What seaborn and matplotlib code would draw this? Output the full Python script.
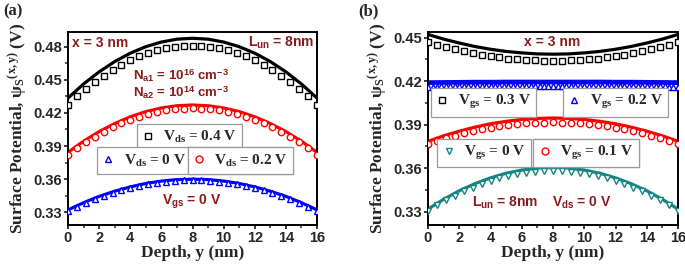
"""Surface potential vs depth, two panels."""

import matplotlib
matplotlib.use("Agg")
import matplotlib.pyplot as plt
from matplotlib.lines import Line2D
from matplotlib.ticker import MultipleLocator
import seaborn as sns

# ---- data ---------------------------------------------------------------
line_depth = [0, 1, 2, 3, 4, 5, 6, 7, 8, 9, 10, 11, 12, 13, 14, 15, 16]
pt_depth = [0, 0.57, 1.14, 1.71, 2.29, 2.86, 3.43, 4.0, 4.57, 5.14, 5.71, 6.29, 6.86, 7.43, 8.0,
            8.57, 9.14, 9.71, 10.29, 10.86, 11.43, 12.0, 12.57, 13.14, 13.71, 14.29, 14.86, 15.43, 16.0]
dense_depth = [0, 0.29, 0.57, 0.86, 1.14, 1.43, 1.71, 2.0, 2.29, 2.57, 2.86, 3.14, 3.43, 3.71,
               4.0, 4.29, 4.57, 4.86, 5.14, 5.43, 5.71, 6.0, 6.29, 6.57, 6.86, 7.14, 7.43, 7.71,
               8.0, 8.29, 8.57, 8.86, 9.14, 9.43, 9.71, 10.0, 10.29, 10.57, 10.86, 11.14, 11.43,
               11.71, 12.0, 12.29, 12.57, 12.86, 13.14, 13.43, 13.71, 14.0, 14.29, 14.57, 14.86,
               15.14, 15.43, 15.71, 16.0]

# panel (a): Vgs = 0 V, varying Vds
a_vds04_line = [0.4335, 0.4462, 0.4572, 0.4665, 0.4741, 0.4800, 0.4842, 0.4868, 0.4876,
                0.4868, 0.4842, 0.4800, 0.4741, 0.4665, 0.4572, 0.4462, 0.4335]
a_vds04_pts = [0.4275, 0.4349, 0.4417, 0.4480, 0.4537, 0.4589, 0.4635, 0.4676, 0.4712, 0.4742,
               0.4766, 0.4785, 0.4799, 0.4807, 0.4810, 0.4807, 0.4799, 0.4785, 0.4766, 0.4742,
               0.4712, 0.4676, 0.4635, 0.4589, 0.4537, 0.4480, 0.4417, 0.4349, 0.4275]
a_vds02_line = [0.3843, 0.3944, 0.4031, 0.4104, 0.4165, 0.4212, 0.4245, 0.4265, 0.4272,
                0.4265, 0.4245, 0.4212, 0.4165, 0.4104, 0.4031, 0.3944, 0.3843]
a_vds02_pts = [0.3822, 0.3880, 0.3933, 0.3983, 0.4028, 0.4069, 0.4105, 0.4137, 0.4165, 0.4188,
               0.4208, 0.4223, 0.4233, 0.4240, 0.4242, 0.4240, 0.4233, 0.4223, 0.4208, 0.4188,
               0.4165, 0.4137, 0.4105, 0.4069, 0.4028, 0.3983, 0.3933, 0.3880, 0.3822]
a_vds0_line = [0.3322, 0.3387, 0.3444, 0.3491, 0.3530, 0.3561, 0.3583, 0.3596, 0.3600,
               0.3596, 0.3583, 0.3561, 0.3530, 0.3491, 0.3444, 0.3387, 0.3322]
a_vds0_pts = [0.3310, 0.3349, 0.3384, 0.3417, 0.3447, 0.3474, 0.3498, 0.3520, 0.3538, 0.3554,
              0.3567, 0.3577, 0.3584, 0.3589, 0.3590, 0.3589, 0.3584, 0.3577, 0.3567, 0.3554,
              0.3538, 0.3520, 0.3498, 0.3474, 0.3447, 0.3417, 0.3384, 0.3349, 0.3310]

# panel (b): Vds = 0 V, varying Vgs
b_vgs03_line = [0.4522, 0.4490, 0.4463, 0.4439, 0.4420, 0.4405, 0.4395, 0.4388, 0.4386,
                0.4388, 0.4395, 0.4405, 0.4420, 0.4439, 0.4463, 0.4490, 0.4522]
b_vgs03_pts = [0.4468, 0.4450, 0.4434, 0.4419, 0.4405, 0.4393, 0.4382, 0.4372, 0.4364, 0.4356,
               0.4350, 0.4346, 0.4343, 0.4341, 0.4340, 0.4341, 0.4343, 0.4346, 0.4350, 0.4356,
               0.4364, 0.4372, 0.4382, 0.4393, 0.4405, 0.4419, 0.4434, 0.4450, 0.4468]
b_vgs02_line = [0.4190, 0.4191, 0.4192, 0.4193, 0.4193, 0.4194, 0.4194, 0.4194, 0.4194,
                0.4194, 0.4194, 0.4194, 0.4193, 0.4193, 0.4192, 0.4191, 0.4190]
b_vgs02_pts = [0.4162, 0.4163, 0.4163, 0.4164, 0.4164, 0.4164, 0.4165, 0.4165, 0.4165, 0.4166,
               0.4166, 0.4166, 0.4166, 0.4167, 0.4167, 0.4167, 0.4167, 0.4167, 0.4167, 0.4168,
               0.4168, 0.4168, 0.4168, 0.4168, 0.4168, 0.4168, 0.4168, 0.4168, 0.4168, 0.4168,
               0.4168, 0.4168, 0.4168, 0.4168, 0.4168, 0.4168, 0.4168, 0.4168, 0.4167, 0.4167,
               0.4167, 0.4167, 0.4167, 0.4167, 0.4166, 0.4166, 0.4166, 0.4166, 0.4165, 0.4165,
               0.4165, 0.4164, 0.4164, 0.4164, 0.4163, 0.4163, 0.4162]
b_vgs01_line = [0.3785, 0.3823, 0.3855, 0.3883, 0.3906, 0.3923, 0.3936, 0.3943, 0.3946,
                0.3943, 0.3936, 0.3923, 0.3906, 0.3883, 0.3855, 0.3823, 0.3785]
b_vgs01_pts = [0.3768, 0.3788, 0.3807, 0.3824, 0.3840, 0.3854, 0.3867, 0.3878, 0.3888, 0.3896,
               0.3903, 0.3908, 0.3912, 0.3914, 0.3915, 0.3914, 0.3912, 0.3908, 0.3903, 0.3896,
               0.3888, 0.3878, 0.3867, 0.3854, 0.3840, 0.3824, 0.3807, 0.3788, 0.3768]
b_vgs0_line = [0.3318, 0.3385, 0.3444, 0.3493, 0.3533, 0.3565, 0.3587, 0.3601, 0.3605,
               0.3601, 0.3587, 0.3565, 0.3533, 0.3493, 0.3444, 0.3385, 0.3318]
b_vgs0_pts = [0.3305, 0.3343, 0.3378, 0.3410, 0.3440, 0.3466, 0.3490, 0.3511, 0.3529, 0.3545,
              0.3558, 0.3567, 0.3574, 0.3579, 0.3580, 0.3579, 0.3574, 0.3567, 0.3558, 0.3545,
              0.3529, 0.3511, 0.3490, 0.3466, 0.3440, 0.3410, 0.3378, 0.3343, 0.3305]

a_ticks = [0.33, 0.36, 0.39, 0.42, 0.45, 0.48]
b_ticks = [0.33, 0.36, 0.39, 0.42, 0.45]
x_ticks = [0, 2, 4, 6, 8, 10, 12, 14, 16]

# ---- style ----------------------------------------------------------------
W, H = 685, 264
TOP, BOTTOM = 32, 225
ANNOT = "#8B1A1A"
TEAL = "#138583"
SERIF = "Liberation Serif"
SANS = "Liberation Sans"

sns.set_theme(style="ticks")
plt.rcParams.update({
    "font.family": [SANS, "DejaVu Sans"],
    "font.weight": "bold",
    "mathtext.fontset": "custom",
    "mathtext.rm": "Liberation Serif:bold",
    "mathtext.it": "Liberation Serif:italic:bold",
    "mathtext.bf": "Liberation Serif:bold",
    "mathtext.sf": "Liberation Sans:bold",
    "axes.linewidth": 1.4,
    "axes.unicode_minus": False,
})


def draw_curve(ax, xs, ys, color, lw=2.3):
    sns.lineplot(x=xs, y=ys, ax=ax, color=color, linewidth=lw, zorder=2)


def draw_points(ax, xs, ys, color, marker, ms=4.2):
    sns.lineplot(x=xs, y=ys, ax=ax, color=color, linestyle="", marker=marker,
                 markersize=ms, markerfacecolor="white", markeredgecolor=color,
                 markeredgewidth=1.0, zorder=3)


def legend_box(ax, color, marker, label, cx, cy, ms=5.0):
    handle = Line2D([], [], linestyle="", marker=marker, markersize=ms,
                    markerfacecolor="white", markeredgecolor=color, markeredgewidth=1.0)
    leg = ax.legend([handle], [label], loc="center", bbox_to_anchor=(cx / W, 1 - cy / H),
                    bbox_transform=ax.figure.transFigure, frameon=True, fancybox=False,
                    framealpha=1, edgecolor="#9a9a9a", handlelength=0.8, handletextpad=0.6,
                    borderpad=0.35, borderaxespad=0,
                    prop={"family": SERIF, "weight": "bold", "size": 11})
    leg.get_frame().set_linewidth(0.9)
    leg.set_zorder(6)
    ax.add_artist(leg)


def annot(fig, text, cx, cy, size=10):
    fig.text(cx / W, 1 - cy / H, text, color=ANNOT, ha="center", va="center",
             fontsize=size, fontweight="bold", family=SANS)


def style_axes(ax, ylim, yticks):
    ax.set_xlim(0, 16)
    ax.set_ylim(*ylim)
    ax.set_xticks(x_ticks)
    ax.set_yticks(yticks)
    ax.set_yticklabels([f"{t:.2f}" for t in yticks])
    ax.yaxis.set_minor_locator(MultipleLocator(0.015))
    ax.xaxis.set_minor_locator(MultipleLocator(1))
    ax.tick_params(which="major", direction="out", length=3, width=1.3,
                   labelsize=10.5, pad=1.5)
    ax.tick_params(which="minor", direction="out", length=2, width=1.1)
    for lab in ax.get_xticklabels() + ax.get_yticklabels():
        lab.set_fontweight("bold")
        lab.set_family(SANS)
    for side in ["top", "right", "left", "bottom"]:
        ax.spines[side].set_visible(True)
        ax.spines[side].set_color("black")
    ax.set_xlabel("Depth, y (nm)", family=SERIF, fontweight="bold", fontsize=12.5, labelpad=0)
    ax.set_ylabel(r"Surface Potential, $\mathrm{\psi_S}^{\mathrm{(x,y)}}$ (V)",
                  family=SERIF, fontweight="bold", fontsize=12.5, labelpad=3)


fig = plt.figure(figsize=(W / 100, H / 100), dpi=100)
ax_a = fig.add_axes([68 / W, 1 - BOTTOM / H, (317 - 68) / W, (BOTTOM - TOP) / H])
ax_b = fig.add_axes([428 / W, 1 - BOTTOM / H, (678 - 428) / W, (BOTTOM - TOP) / H])

# panel (a)
draw_curve(ax_a, line_depth, a_vds04_line, "black")
draw_curve(ax_a, line_depth, a_vds02_line, "#ff0000")
draw_curve(ax_a, line_depth, a_vds0_line, "#0000ff")
draw_points(ax_a, pt_depth, a_vds04_pts, "black", "s", ms=4.0)
draw_points(ax_a, pt_depth, a_vds02_pts, "#ff0000", "o", ms=4.6)
draw_points(ax_a, pt_depth, a_vds0_pts, "#0000ff", "^", ms=4.8)
style_axes(ax_a, (0.3185, 0.4933), a_ticks)

legend_box(ax_a, "black", "s", r"V$_{\mathrm{ds}}$ = 0.4 V", 189.5, 137, ms=4.5)
legend_box(ax_a, "#0000ff", "^", r"V$_{\mathrm{ds}}$ = 0 V", 144, 160.5)
legend_box(ax_a, "#ff0000", "o", r"V$_{\mathrm{ds}}$ = 0.2 V", 240.5, 160.5)

annot(fig, "x = 3 nm", 100, 43)
annot(fig, r"L$_{\mathsf{un}}$ = 8nm", 281, 43)
annot(fig, r"N$_{\mathsf{a1}}$ = 10$^{\mathsf{16}}$ cm$^{\mathsf{-3}}$", 181, 76, size=9.5)
annot(fig, r"N$_{\mathsf{a2}}$ = 10$^{\mathsf{14}}$ cm$^{\mathsf{-3}}$", 181, 93, size=9.5)
annot(fig, r"V$_{\mathsf{gs}}$ = 0 V", 192, 202)

# panel (b)
draw_curve(ax_b, line_depth, b_vgs03_line, "black")
draw_curve(ax_b, line_depth, b_vgs02_line, "#0000ff", lw=3.4)
draw_curve(ax_b, line_depth, b_vgs01_line, "#ff0000")
draw_curve(ax_b, line_depth, b_vgs0_line, TEAL)
draw_points(ax_b, pt_depth, b_vgs03_pts, "black", "s", ms=4.0)
draw_points(ax_b, dense_depth, b_vgs02_pts, "#0000ff", "^", ms=4.6)
draw_points(ax_b, pt_depth, b_vgs01_pts, "#ff0000", "o", ms=4.6)
draw_points(ax_b, pt_depth, b_vgs0_pts, TEAL, "v", ms=4.8)
style_axes(ax_b, (0.3208, 0.4539), b_ticks)

legend_box(ax_b, "black", "s", r"V$_{\mathrm{gs}}$ = 0.3 V", 483.5, 102.5, ms=4.5)
legend_box(ax_b, "#0000ff", "^", r"V$_{\mathrm{gs}}$ = 0.2 V", 615.5, 102.5)
legend_box(ax_b, TEAL, "v", r"V$_{\mathrm{gs}}$ = 0 V", 484, 153)
legend_box(ax_b, "#ff0000", "o", r"V$_{\mathrm{gs}}$ = 0.1 V", 586, 153)

annot(fig, "x = 3 nm", 552, 42)
annot(fig, r"L$_{\mathsf{un}}$ = 8nm", 505, 203)
annot(fig, r"V$_{\mathsf{ds}}$ = 0 V", 582, 203)

fig.text(3 / W, 1 - 11 / H, "(a)", family=SERIF, fontweight="bold", fontsize=12,
         ha="left", va="center")
fig.text(358 / W, 1 - 11 / H, "(b)", family=SERIF, fontweight="bold", fontsize=12,
         ha="left", va="center")

fig.savefig("out.png", dpi=100)
